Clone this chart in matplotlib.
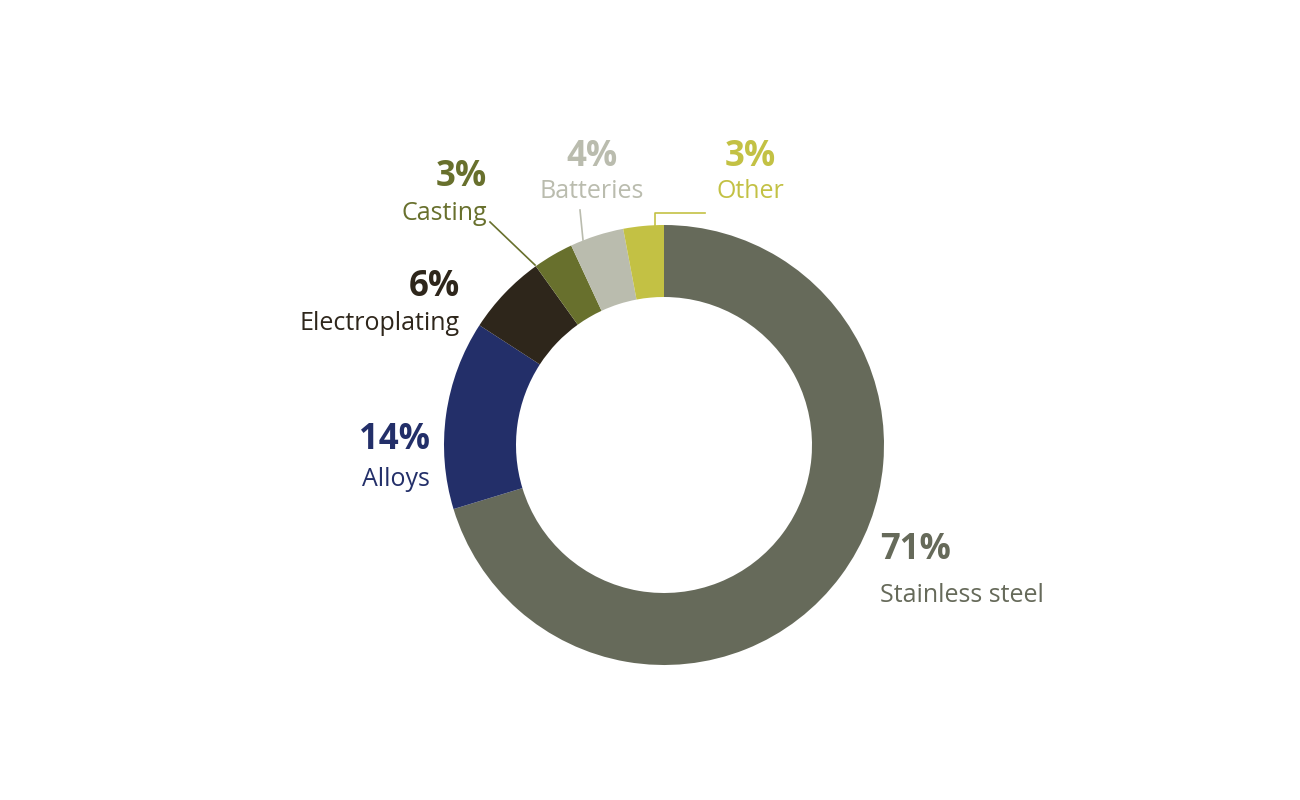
import matplotlib as mpl
mpl.use('Agg')
import matplotlib.pyplot as plt

plt.rcParams['font.family'] = ['Open Sans', 'DejaVu Sans']

labels = ["Stainless steel", "Alloys", "Electroplating", "Casting", "Batteries", "Other"]
values = [71, 14, 6, 3, 4, 3]
colors = ["#666a5a", "#232f69", "#2e261b", "#68702d", "#babcae", "#c3c144"]

W, H = 1300, 800
fig = plt.figure(figsize=(13, 8), dpi=100)
ax = fig.add_axes([0, 0, 1, 1])
ax.set_xlim(0, W)
ax.set_ylim(0, H)
ax.set_aspect('equal')
ax.axis('off')

cx, cy, r = 664, H - 445, 220
ax.pie(values, colors=colors, startangle=90, counterclock=False,
       center=(cx, cy), radius=r, wedgeprops=dict(width=72, linewidth=0),
       frame=True)
ax.set_xlim(0, W)
ax.set_ylim(0, H)
ax.axis('off')

# (x, y of percent, y of label, alignment) in pixel coords from top
pos = [(880, 550, 595, 'left'),
       (430, 440, 480, 'right'),
       (460, 287, 324, 'right'),
       (487, 177, 214, 'right'),
       (592, 157, 192, 'center'),
       (750, 157, 192, 'center')]
for (x, yp, yl, ha), lab, v, c in zip(pos, labels, values, colors):
    ax.text(x, H - yp, f"{v}%", ha=ha, va='center', fontsize=25,
            fontweight='bold', color=c, fontstretch='condensed')
    ax.text(x, H - yl, lab, ha=ha, va='center', fontsize=18, color=c)

# leader lines
ax.plot([490, 535], [H - 222, H - 265], color=colors[3], lw=1.2)
ax.plot([580, 583], [H - 210, H - 240], color=colors[4], lw=1.2)
ax.plot([655, 655, 705], [H - 226, H - 213, H - 213], color=colors[5], lw=1.2)

fig.savefig("out.png", dpi=100, facecolor="white")
